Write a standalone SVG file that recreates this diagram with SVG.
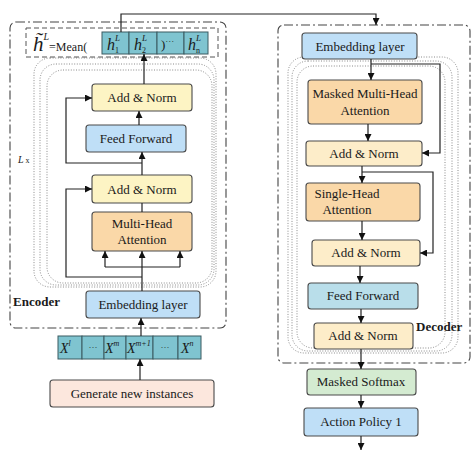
<svg xmlns="http://www.w3.org/2000/svg" width="474" height="451" viewBox="0 0 474 451" font-size="13" font-family="'Liberation Serif','DejaVu Serif','Times New Roman',serif">
<defs>
<marker id="ah" viewBox="0 0 10 10" refX="10" refY="5" markerWidth="7" markerHeight="7" orient="auto" markerUnits="userSpaceOnUse"><path d="M0,0 L10,5 L0,10 z" fill="#111"/></marker>
<style>
text{fill:#1a1a1a}
.c{text-anchor:middle}
.b{font-weight:bold}
.i{font-style:italic}
.box{stroke:#4a4a4a;stroke-width:1.1}
.an{fill:#fdf4c4}
.and{fill:#fdedc9}
.att{fill:#fad8a8}
.blue{fill:#bfdff7}
.ff2{fill:#b9deea}
.grn{fill:#d4ebd1}
.peach{fill:#fce7dd}
.cell{fill:#7fc4d0;stroke:#3a5a60;stroke-width:1}
.dd{fill:none;stroke:#444;stroke-width:1.1;stroke-dasharray:9 3 2 3}
.ds{fill:none;stroke:#555;stroke-width:1;stroke-dasharray:5 3}
.dot{fill:none;stroke:#8a8a8a;stroke-width:1;stroke-dasharray:1 1.6}
.ln{fill:none;stroke:#222;stroke-width:1.2}
.ar{fill:none;stroke:#222;stroke-width:1.2;marker-end:url(#ah)}
</style>
</defs>

<!-- frames -->
<g id="encoder-frame">
<rect class="dd" x="10" y="22" width="216" height="306" rx="6"/>
<rect class="dot" x="34" y="58" width="182" height="229" rx="16"/>
<rect class="dot" x="40" y="64" width="174" height="221" rx="16"/>
<rect class="dot" x="47" y="70" width="165" height="213" rx="16"/>
<text class="b" x="13" y="306">Encoder</text>
<text x="18" y="163"><tspan class="i" font-size="10">L</tspan><tspan font-size="8"> x</tspan></text>
</g>
<g id="decoder-frame">
<rect class="dd" x="278" y="25" width="192" height="338" rx="6"/>
<rect class="dot" x="288" y="57" width="170" height="296" rx="16"/>
<rect class="dot" x="292" y="61" width="160" height="290" rx="16"/>
<rect class="dot" x="297" y="66" width="148" height="282" rx="16"/>
<text class="b" x="416" y="331">Decoder</text>
</g>

<!-- mean output -->
<g id="mean-output">
<rect class="ds" x="26" y="28" width="192" height="29"/>
<text x="33" y="51"><tspan class="i" font-size="21">h̃</tspan><tspan class="i" font-size="10" dy="-11">L</tspan><tspan font-size="12" dy="11">=Mean(</tspan></text>
<rect class="cell" x="102" y="32" width="27" height="22"/>
<rect class="cell" x="129" y="32" width="28" height="22"/>
<rect class="cell" x="157" y="32" width="27" height="22"/>
<rect class="cell" x="184" y="32" width="24" height="22"/>
<text x="107" y="50"><tspan class="i" font-size="16">h</tspan><tspan font-size="8" dy="3">1</tspan><tspan class="i" font-size="9" dx="-4" dy="-12">L</tspan></text>
<text x="134" y="50"><tspan class="i" font-size="16">h</tspan><tspan font-size="8" dy="3">2</tspan><tspan class="i" font-size="9" dx="-4" dy="-12">L</tspan></text>
<text x="161" y="49"><tspan>)</tspan><tspan font-size="9" dy="-5">···</tspan></text>
<text x="188" y="50"><tspan class="i" font-size="16">h</tspan><tspan font-size="8" dy="3">n</tspan><tspan class="i" font-size="9" dx="-4" dy="-12">L</tspan></text>
</g>

<!-- encoder nodes -->
<g id="enc-addnorm2"><rect class="box an" x="92" y="84" width="100" height="27" rx="3"/><text class="c" x="142" y="102">Add &amp; Norm</text></g>
<g id="enc-feedforward"><rect class="box blue" x="86" y="125" width="100" height="27" rx="3"/><text class="c" x="136" y="143">Feed Forward</text></g>
<g id="enc-addnorm1"><rect class="box an" x="92" y="175" width="100" height="28" rx="3"/><text class="c" x="142" y="194">Add &amp; Norm</text></g>
<g id="enc-mha"><rect class="box att" x="92" y="212" width="100" height="39" rx="3"/><text class="c" x="142" y="228">Multi-Head</text><text class="c" x="142" y="244">Attention</text></g>
<g id="enc-embedding"><rect class="box blue" x="86" y="291" width="114" height="27" rx="3"/><text class="c" x="143" y="309">Embedding layer</text></g>

<!-- input -->
<g id="input-cells">
<rect class="cell" x="58" y="336" width="24" height="23"/>
<rect class="cell" x="82" y="336" width="22" height="23"/>
<rect class="cell" x="104" y="336" width="22" height="23"/>
<rect class="cell" x="126" y="336" width="27" height="23"/>
<rect class="cell" x="153" y="336" width="25" height="23"/>
<rect class="cell" x="178" y="336" width="23" height="23"/>
<text x="60" y="353"><tspan class="i" font-size="14">X</tspan><tspan class="i" font-size="8" dy="-7">l</tspan></text>
<text class="c" x="93" y="350" font-size="9">···</text>
<text x="105" y="353"><tspan class="i" font-size="14">X</tspan><tspan class="i" font-size="8" dy="-7">m</tspan></text>
<text x="127" y="353"><tspan class="i" font-size="14">X</tspan><tspan class="i" font-size="8" dy="-7">m+1</tspan></text>
<text class="c" x="165" y="350" font-size="9">···</text>
<text x="181" y="353"><tspan class="i" font-size="14">X</tspan><tspan class="i" font-size="8" dy="-7">n</tspan></text>
</g>
<g id="generate"><rect class="box peach" x="50" y="380" width="164" height="27" rx="3"/><text class="c" x="132" y="398">Generate new instances</text></g>

<!-- decoder nodes -->
<g id="dec-embedding"><rect class="box blue" x="302" y="33" width="115" height="26" rx="3"/><text class="c" x="360" y="51">Embedding layer</text></g>
<g id="dec-mmha"><rect class="box att" x="308" y="80" width="114" height="44" rx="3"/><text class="c" x="365" y="98">Masked Multi-Head</text><text class="c" x="365" y="115">Attention</text></g>
<g id="dec-addnorm1"><rect class="box and" x="306" y="141" width="116" height="25" rx="3"/><text class="c" x="364" y="158">Add &amp; Norm</text></g>
<g id="dec-sha"><rect class="box att" x="306" y="183" width="114" height="38" rx="3"/><text class="c" x="347" y="198">Single-Head</text><text class="c" x="347" y="214">Attention</text></g>
<g id="dec-addnorm2"><rect class="box and" x="312" y="240" width="108" height="26" rx="3"/><text class="c" x="366" y="257">Add &amp; Norm</text></g>
<g id="dec-feedforward"><rect class="box ff2" x="308" y="283" width="110" height="26" rx="3"/><text class="c" x="363" y="300">Feed Forward</text></g>
<g id="dec-addnorm3"><rect class="box and" x="314" y="323" width="99" height="26" rx="3"/><text class="c" x="363" y="340">Add &amp; Norm</text></g>
<g id="masked-softmax"><rect class="box grn" x="307" y="369" width="109" height="26" rx="3"/><text class="c" x="361" y="386">Masked Softmax</text></g>
<g id="action-policy"><rect class="box blue" x="304" y="408" width="114" height="28" rx="3"/><text class="c" x="361" y="426">Action Policy 1</text></g>

<!-- connectors -->
<g id="connectors">
<path class="ar" d="M121,32 V14 H376 V25"/>
<path class="ar" d="M142,291 V251"/>
<path class="ln" d="M105,267 H180"/>
<path class="ar" d="M105,267 V251"/>
<path class="ar" d="M180,267 V251"/>
<path class="ar" d="M142,277 H66 V189 H92"/>
<path class="ln" d="M142,212 V203"/>
<path class="ar" d="M142,175 V152"/>
<path class="ar" d="M142,163 H66 V98 H92"/>
<path class="ar" d="M139,125 V111"/>
<path class="ar" d="M144,84 V54"/>
<path class="ar" d="M141,336 V318"/>
<path class="ar" d="M140,380 V359"/>
<path class="ar" d="M371,59 V80"/>
<path class="ar" d="M371,64 H440 V153 H422"/>
<path class="ar" d="M368,124 V141"/>
<path class="ar" d="M362,166 V183"/>
<path class="ar" d="M362,172 H433 V253 H420"/>
<path class="ar" d="M362,221 V240"/>
<path class="ar" d="M360,266 V283"/>
<path class="ar" d="M361,309 V323"/>
<path class="ar" d="M361,349 V369"/>
<path class="ar" d="M361,395 V408"/>
<path class="ar" d="M361,436 V450"/>
</g>
</svg>
